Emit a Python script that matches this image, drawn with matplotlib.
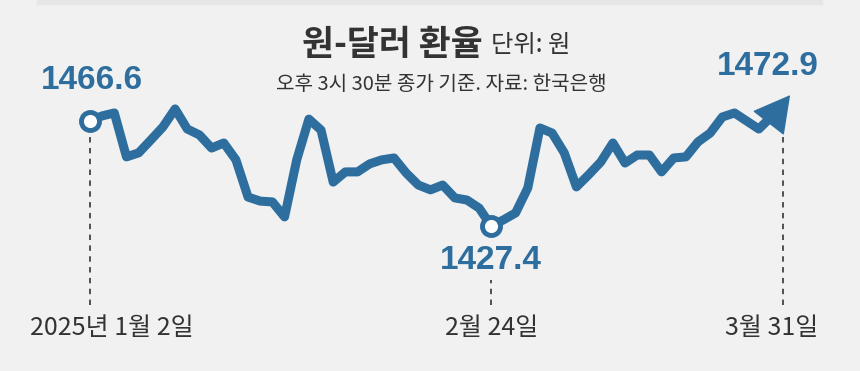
import numpy as np
import pandas as pd
import matplotlib
matplotlib.use('Agg')
import matplotlib.pyplot as plt
from matplotlib.transforms import ScaledTranslation, blended_transform_factory
from matplotlib.patches import Rectangle

# KRW per USD, 15:30 close, Korean trading days 2025-01-02 .. 2025-03-31
holidays = ['2025-01-27', '2025-01-28', '2025-01-29', '2025-01-30', '2025-03-03']
dates = pd.bdate_range('2025-01-02', '2025-03-31', freq='C', holidays=holidays)
rates = [1466.6, 1468.5, 1469.6, 1453.2, 1454.7, 1459.5, 1464.4, 1471.1, 1463.6, 1461.4,
         1456.5, 1458.4, 1452.1, 1438.2, 1436.7, 1436.4, 1430.8, 1452.1, 1467.3, 1463.2,
         1443.8, 1447.6, 1447.6, 1450.6, 1452.1, 1452.8, 1447.2, 1442.7, 1440.9, 1442.7,
         1437.9, 1437.1, 1434.1, 1427.4, 1429.7, 1432.3, 1441.6, 1464.0, 1462.1, 1454.7,
         1442.0, 1446.5, 1451.3, 1458.4, 1450.9, 1453.9, 1453.9, 1447.6, 1452.8, 1453.2,
         1458.8, 1462.1, 1468.1, 1469.6, 1466.6, 1463.6, 1468.1, 1472.9]
title = '원-달러 환율'
unit = '단위: 원'
subtitle = '오후 3시 30분 종가 기준. 자료: 한국은행'
date_labels = ['2025년 1월 2일', '2월 24일', '3월 31일']

blue = '#2e6e9e'
dark = '#333333'
bg = '#f1f1f1'
kr = ['Noto Sans CJK KR', 'DejaVu Sans']
num = ['Liberation Sans', 'DejaVu Sans']

x = np.arange(len(rates))
y = np.array(rates)
i_min = int(np.argmin(y))

fig = plt.figure(figsize=(8.6, 3.71), dpi=100, facecolor=bg)
ax = fig.add_axes([0, 0, 1, 1])
ax.set_facecolor(bg)
ax.set_xlim(-7.40, 63.32)
ax.set_ylim(1373.3, 1511.75)
ax.axis('off')

# faint strip at top edge
fig.patches.append(Rectangle((37 / 860, 1 - 4 / 371), 785 / 860, 4 / 371,
                             transform=fig.transFigure, color='#e6e6e6', zorder=0))

# dashed guide lines
bottom = 1397.9
guide = dict(color='#444444', lw=1.3, linestyles=(0, (3, 3)), zorder=1)
ax.vlines(x[0], bottom, y[0] - 3.8, **guide)
ax.vlines(x[i_min], bottom, 1407.3, **guide)
ax.vlines(x[-1], bottom, y[-1] - 2.5, **guide)

# main line
ax.plot(x, y, color=blue, lw=6.5, solid_joinstyle='round', solid_capstyle='butt', zorder=2)
ax.plot([x[0], x[i_min]], [y[0], y[i_min]], ls='none', marker='o', ms=13,
        mfc='white', mec=blue, mew=3.5, zorder=3)

# arrow head at the end
tip = ax.transData + ScaledTranslation(7 / 100, 9 / 100, fig.dpi_scale_trans)
ax.annotate('', xy=(x[-1], y[-1]), xycoords=tip, xytext=(x[-1], y[-1]), textcoords='data',
            arrowprops=dict(arrowstyle='-|>,head_length=1.0,head_width=0.55', mutation_scale=24,
                            color=blue, lw=1, shrinkA=0, shrinkB=0), zorder=3)

# value labels
lab = dict(color=blue, fontsize=24, fontweight='bold', family=num, ha='center', va='center',
           textcoords='offset points')
ax.annotate(f'{y[0]:.1f}', (x[0], y[0]), xytext=(1.5, 29.5), **lab)
ax.annotate(f'{y[i_min]:.1f}', (x[i_min], y[i_min]), xytext=(0, -24.5), **lab)
ax.annotate(f'{y[-1]:.1f}', (x[-1], y[-1]), xytext=(-11, 27), **lab)

# date labels
tr = blended_transform_factory(ax.transData, fig.transFigure)
dlab = dict(color=dark, fontsize=18, family=kr, ha='center', va='center')
ax.annotate(date_labels[0], (x[0], 1 - 328 / 371), xycoords=tr, xytext=(16, 0),
            textcoords='offset points', **dlab)
ax.annotate(date_labels[1], (x[i_min], 1 - 328 / 371), xycoords=tr, xytext=(0, 0),
            textcoords='offset points', **dlab)
ax.annotate(date_labels[2], (x[-1], 1 - 328 / 371), xycoords=tr, xytext=(-8, 0),
            textcoords='offset points', **dlab)

# title
fig.text(483 / 860, 1 - 44 / 371, title, ha='right', va='center', fontsize=25,
         fontweight='bold', color=dark, family=kr)
fig.text(491 / 860, 1 - 45 / 371, unit, ha='left', va='center', fontsize=17.5,
         color=dark, family=kr)
fig.text(441 / 860, 1 - 85 / 371, subtitle, ha='center', va='center', fontsize=14.5,
         color=dark, family=kr)

fig.savefig('out.png', dpi=100, facecolor=bg)
